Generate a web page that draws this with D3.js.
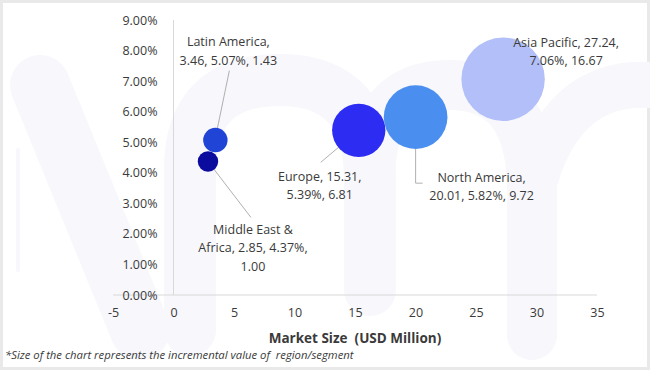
<!DOCTYPE html>
<html>
<head>
<meta charset="utf-8">
<script src="https://cdn.jsdelivr.net/npm/d3@7"></script>
<style>
  html, body { margin: 0; padding: 0; background: #fff; }
  svg { display: block; }
  text { font-family: "Open Sans", "Noto Sans", sans-serif; fill: #3a3a3a; white-space: pre; }
</style>
</head>
<body>
<svg id="chart" width="650" height="370"></svg>
<script>
// ---- data ----
const regions = ["Latin America", "Middle East & Africa", "Europe", "North America", "Asia Pacific"];
const marketSize = [3.46, 2.85, 15.31, 20.01, 27.24];      // USD Million (x)
const cagr = [5.07, 4.37, 5.39, 5.82, 7.06];               // % (y)
const incremental = [1.43, 1.00, 6.81, 9.72, 16.67];       // bubble size
const xTicks = [-5, 0, 5, 10, 15, 20, 25, 30, 35];
const yTicks = [0, 1, 2, 3, 4, 5, 6, 7, 8, 9];
const xTitle = "Market Size  (USD Million)";
const footnote = "*Size of the chart represents the incremental value of  region/segment";

// ---- styling / layout ----
const colors = ["#1f44d6", "#0b0b9e", "#2c2cf2", "#4a8ff0", "#b2bff8"];
// label layout: line breaks (word counts per line), offset from bubble centre
const labelLayout = [
  { words: [2, 3], dx: 13, dy: -98 },
  { words: [3, 3, 1], dx: 45, dy: 68 },
  { words: [2, 2], dx: -39, dy: 46 },
  { words: [2, 3], dx: 66, dy: 60 },
  { words: [3, 2], dx: 63, dy: -37 }
];
const lineH = 18.5;

const svg = d3.select("#chart");

// frame
svg.append("rect").attr("x", 0).attr("y", 0).attr("width", 650).attr("height", 370).attr("fill", "#e9e9e9");
svg.append("rect").attr("x", 3).attr("y", 3).attr("width", 644).attr("height", 364).attr("fill", "#ffffff");

// faint watermark
const wm = svg.append("g").attr("fill", "none").attr("stroke", "#f7f7fc").attr("stroke-linecap", "round");
wm.append("path").attr("d", "M 40 85 L 140 330").attr("stroke-width", 60);
wm.append("path").attr("d", "M 18 150 L 18 270").attr("stroke-width", 4);
wm.append("path").attr("d", "M 190 330 L 190 170 Q 190 80 280 80 Q 370 80 370 180 L 370 290").attr("stroke-width", 52);
wm.append("path").attr("d", "M 370 180 Q 370 85 450 85 Q 532 85 532 190 L 532 335").attr("stroke-width", 50);
wm.append("path").attr("d", "M 532 190 Q 560 80 650 85").attr("stroke-width", 46);

// scales
const x = d3.scaleLinear().domain([-5, 35]).range([113, 597]);
const y = d3.scaleLinear().domain([0, 9]).range([295, 20]);
const r = d3.scaleSqrt().domain([0, d3.max(incremental)]).range([0, 41.7]);

// axis lines
svg.append("line").attr("x1", x(-5)).attr("x2", x(35)).attr("y1", y(0)).attr("y2", y(0))
  .attr("stroke", "#d9d9d9").attr("stroke-width", 1);
svg.append("line").attr("x1", x(0)).attr("x2", x(0)).attr("y1", y(0)).attr("y2", y(9))
  .attr("stroke", "#d9d9d9").attr("stroke-width", 1);

// y axis labels
const yAxis = d3.axisLeft(y).tickValues(yTicks).tickSize(0).tickPadding(15)
  .tickFormat(d => d.toFixed(2) + "%");
const gy = svg.append("g").attr("transform", `translate(${x(0) - 1},0)`).call(yAxis);
gy.select(".domain").remove();
gy.selectAll("text").style("font-size", "12.5px").attr("fill", "#3a3a3a")
  .style("font-family", '"Open Sans", sans-serif');

// x axis labels
const xAxis = d3.axisBottom(x).tickValues(xTicks).tickSize(0).tickPadding(13)
  .tickFormat(d => String(d));
const gx = svg.append("g").attr("transform", `translate(0,${y(0)})`).call(xAxis);
gx.select(".domain").remove();
gx.selectAll("text").style("font-size", "12.5px").attr("fill", "#3a3a3a")
  .style("font-family", '"Open Sans", sans-serif');

// axis title
svg.append("text").attr("x", (x(-5) + x(35)) / 2).attr("y", 343).attr("text-anchor", "middle")
  .style("font-size", "13.5px").style("font-weight", "bold").attr("fill", "#262626").text(xTitle);

// footnote
svg.append("text").attr("x", 5).attr("y", 359)
  .style("font-size", "11.3px").style("font-style", "italic").attr("fill", "#262626").text(footnote);

// data
const data = regions.map((name, i) => ({
  name, x: marketSize[i], y: cagr[i], s: incremental[i], color: colors[i], layout: labelLayout[i]
}));

// leader lines
const leader = svg.append("g").attr("stroke", "#b0b0b0").attr("stroke-width", 1).attr("fill", "none");
data.forEach((d, i) => {
  const cx = x(d.x), cy = y(d.y);
  const lx = cx + d.layout.dx, ly = cy + d.layout.dy;
  const nLines = d.layout.words.length;
  let path = null;
  if (i === 0) path = `M${cx},${cy - 2} L${lx + 1},${ly + (nLines - 1) * lineH + 10}`;
  if (i === 1) path = `M${cx},${cy} L${lx - 2},${ly - 12}`;
  if (i === 2) path = `M${cx},${cy} L${lx + 1},${ly - 14}`;
  if (i === 3) path = `M${cx},${cy} L${cx},${ly + 6} L${cx + 7},${ly + 6}`;
  if (path) leader.append("path").attr("d", path);
});

// bubbles
svg.append("g").selectAll("circle").data(data).join("circle")
  .attr("cx", d => x(d.x)).attr("cy", d => y(d.y)).attr("r", d => r(d.s))
  .attr("fill", d => d.color);

// labels
data.forEach(d => {
  const full = `${d.name}, ${d.x.toFixed(2)}, ${d.y.toFixed(2)}%, ${d.s.toFixed(2)}`;
  const words = full.split(" ");
  const lines = [];
  let k = 0;
  d.layout.words.forEach(n => { lines.push(words.slice(k, k + n).join(" ")); k += n; });
  const t = svg.append("text").attr("text-anchor", "middle")
    .style("font-size", "12.5px").attr("fill", "#333");
  lines.forEach((ln, j) => {
    t.append("tspan").attr("x", x(d.x) + d.layout.dx)
      .attr("y", y(d.y) + d.layout.dy + j * lineH).attr("dy", "0.35em").text(ln);
  });
});
</script>
</body>
</html>
